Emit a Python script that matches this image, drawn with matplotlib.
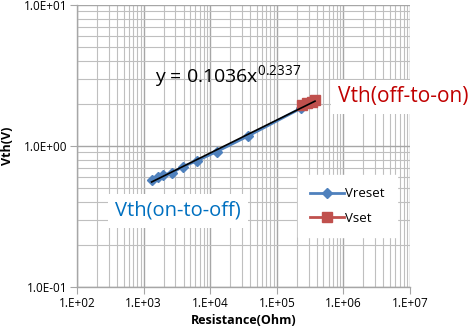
import numpy as np
import matplotlib
matplotlib.use('Agg')
import matplotlib.pyplot as plt
from matplotlib.ticker import FixedLocator, FixedFormatter, LogLocator, NullFormatter

plt.rcParams['font.family'] = ['Open Sans', 'DejaVu Sans']

reset_r = [1320, 1660, 1990, 2700, 3870, 6400, 12500, 37500, 230000]
reset_v = [0.574, 0.606, 0.622, 0.647, 0.713, 0.787, 0.912, 1.18, 1.85]
set_r = [237000, 281000, 334000, 375000]
set_v = [1.95, 2.01, 2.06, 2.12]

# power-law trendline y = a * x^b
fit_a = 0.1036
fit_b = 0.2337

x_ticks = [1e2, 1e3, 1e4, 1e5, 1e6, 1e7]
x_labels = ['1.E+02', '1.E+03', '1.E+04', '1.E+05', '1.E+06', '1.E+07']
y_ticks = [1e-1, 1e0, 1e1]
y_labels = ['1.0E-01', '1.0E+00', '1.0E+01']

BLUE = '#4F81BD'
RED = '#C0504D'
GRID = '#BFBFBF'

fig = plt.figure(figsize=(4.74, 3.35), dpi=100)
ax = fig.add_axes([0.1624, 0.1433, 0.7025, 0.8418])

ax.set_xscale('log')
ax.set_yscale('log')
ax.set_xlim(x_ticks[0], x_ticks[-1])
ax.set_ylim(y_ticks[0], y_ticks[-1])

ax.xaxis.set_major_locator(FixedLocator(x_ticks))
ax.xaxis.set_major_formatter(FixedFormatter(x_labels))
ax.yaxis.set_major_locator(FixedLocator(y_ticks))
ax.yaxis.set_major_formatter(FixedFormatter(y_labels))
ax.xaxis.set_minor_locator(LogLocator(base=10, subs=np.arange(2, 10)))
ax.yaxis.set_minor_locator(LogLocator(base=10, subs=np.arange(2, 10)))
ax.xaxis.set_minor_formatter(NullFormatter())
ax.yaxis.set_minor_formatter(NullFormatter())

ax.grid(which='major', color='#A6A6A6', linewidth=1.0)
ax.grid(which='minor', color=GRID, linewidth=0.8)
ax.set_axisbelow(True)
for s in ['top', 'right']:
    ax.spines[s].set_visible(False)
for s in ['left', 'bottom']:
    ax.spines[s].set_color('#A6A6A6')
    ax.spines[s].set_linewidth(1.0)
ax.tick_params(which='major', length=5, color='#A6A6A6', labelsize=8.5, pad=2)
ax.tick_params(which='minor', length=0)

ax.plot(reset_r, reset_v, color=BLUE, marker='D', markersize=5.5, linewidth=2,
        label='Vreset', zorder=3)
ax.plot(set_r, set_v, color=RED, marker='s', markersize=7, linewidth=2,
        label='Vset', zorder=4)

fit_x = np.logspace(np.log10(min(reset_r)), np.log10(max(set_r)), 50)
ax.plot(fit_x, fit_a * fit_x ** fit_b, color='black', linewidth=1.2, zorder=5)

ax.text(0.234, 0.723, f'y = {fit_a}x$^{{\\mathregular{{{fit_b}}}}}$', transform=ax.transAxes,
        fontsize=14, va='baseline', ha='left', zorder=6)
ax.text(0.784, 0.674, 'Vth(off-to-on)', transform=ax.transAxes, color='#C00000',
        fontsize=15, va='center', ha='left', clip_on=False, zorder=6,
        bbox=dict(facecolor='white', edgecolor='none', pad=5))
ax.text(0.114, 0.270, 'Vth(on-to-off)', transform=ax.transAxes, color='#0070C0',
        fontsize=14.5, va='center', ha='left', zorder=6,
        bbox=dict(facecolor='white', edgecolor='none', pad=5))

leg = ax.legend(loc='center', bbox_to_anchor=(0.812, 0.287), fontsize=9.5,
                frameon=True, fancybox=False, handlelength=2.6, handletextpad=0.1,
                borderpad=0.9, labelspacing=0.9)
leg.get_frame().set_edgecolor('white')
leg.get_frame().set_facecolor('white')
leg.get_frame().set_alpha(1)
leg.set_zorder(7)

ax.set_xlabel('Resistance(Ohm)', fontsize=9, fontweight='bold', labelpad=3)
ax.set_ylabel('Vth(V)', fontsize=9, fontweight='bold', labelpad=7)

fig.savefig('out.png', dpi=100)
